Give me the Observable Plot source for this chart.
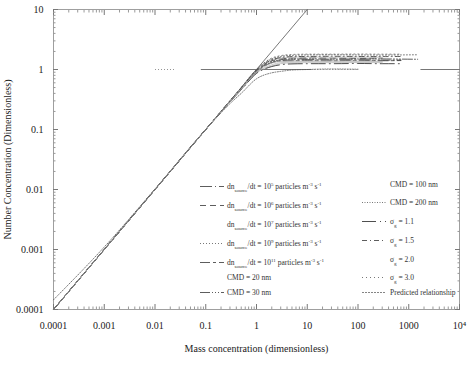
<!DOCTYPE html>
<html><head><meta charset="utf-8">
<script src="https://cdn.jsdelivr.net/npm/d3@7"></script>
<script src="https://cdn.jsdelivr.net/npm/@observablehq/plot@0.6"></script>
<style>body{margin:0;background:#fff}</style>
</head><body><div id="chart"></div>
<script>
// ---------- data ----------
const xTicks = [1e-4, 1e-3, 1e-2, 0.1, 1, 10, 100, 1000, 1e4];
const xTickLabels = ["0.0001", "0.001", "0.01", "0.1", "1", "10", "100", "1000", "10⁴"];
const yTicks = [1e-4, 1e-3, 1e-2, 0.1, 1, 10];
const yTickLabels = ["0.0001", "0.001", "0.01", "0.1", "1", "10"];

const xs = [1e-4, 1e-3, 1e-2, 0.1, 0.3, 0.5, 1, 2, 3, 5, 10, 30, 100, 300, 700, 1500];
const ySrc5   = [1e-4, 1e-3, 0.01, 0.1, 0.29, 0.47, 0.92, 1.30, 1.40, 1.45, 1.46, 1.44, 1.45, 1.43, 1.44, null];
const ySrc6   = [1e-4, 1e-3, 0.01, 0.1, 0.29, 0.48, 0.95, 1.40, 1.50, 1.55, 1.56, 1.55, 1.54, 1.55, null, null];
const ySrc7   = [1e-4, 1e-3, 0.01, 0.1, 0.29, 0.46, 0.88, 1.20, 1.30, 1.33, 1.35, 1.34, 1.35, 1.34, null, null];
const ySrc9   = [1e-4, 1e-3, 0.01, 0.1, 0.30, 0.50, 1.00, 1.50, 1.65, 1.72, 1.75, 1.76, 1.75, 1.74, 1.75, 1.76];
const ySrc11  = [1e-4, 1e-3, 0.01, 0.1, 0.29, 0.47, 0.90, 1.30, 1.38, 1.40, 1.41, 1.40, 1.42, 1.40, 1.41, null];
const yCmd20  = [1e-4, 1e-3, 0.01, 0.1, 0.29, 0.46, 0.88, 1.15, 1.25, 1.29, 1.30, 1.30, 1.31, 1.30, null, null];
const yCmd30  = [1e-4, 1e-3, 0.01, 0.1, 0.29, 0.48, 0.93, 1.35, 1.45, 1.50, 1.50, 1.49, 1.50, 1.50, 1.49, 1.48];
const yCmd100 = [1e-4, 1e-3, 0.01, 0.1, 0.30, 0.49, 0.95, 1.45, 1.55, 1.60, 1.62, 1.60, 1.61, 1.60, null, null];
const yCmd200 = [1.45e-4, 1.1e-3, 0.0102, 0.1, 0.27, 0.40, 0.70, 0.88, 0.93, 0.98, 1.00, 1.02, 1.01, null, null, null];
const ySig11  = [1e-4, 1e-3, 0.01, 0.1, 0.29, 0.46, 0.86, 1.12, 1.20, 1.24, 1.25, 1.25, 1.26, 1.25, 1.25, null];
const ySig15  = [1e-4, 1e-3, 0.01, 0.1, 0.30, 0.49, 0.96, 1.45, 1.58, 1.64, 1.65, 1.66, 1.65, 1.64, 1.65, null];
const ySig20  = [1e-4, 1e-3, 0.01, 0.1, 0.29, 0.47, 0.91, 1.28, 1.36, 1.38, 1.38, 1.39, 1.38, 1.37, null, null];
const ySig30  = [1e-4, 1e-3, 0.01, 0.1, 0.30, 0.50, 1.00, 1.55, 1.70, 1.78, 1.80, 1.80, 1.81, 1.80, 1.80, null];
const xPred = [1e-4, 10];
const yPred = [1e-4, 10];
// reference line at y = 1, drawn in pieces (x start, x end)
const unityStart = [0.01, 0.08, 12, 1700];
const unityEnd   = [0.025, 12, 100, 1e4];
const unityDotted = [true, false, true, false];

const seriesNames = ["src5","src6","src7","src9","src11","cmd20","cmd30","cmd100","cmd200","sig11","sig15","sig20","sig30"];
const seriesValues = [ySrc5, ySrc6, ySrc7, ySrc9, ySrc11, yCmd20, yCmd30, yCmd100, yCmd200, ySig11, ySig15, ySig20, ySig30];

// styles (not data)
const styles = {
  src5:   {stroke: "#333", dash: "12,3,1,3"},
  src6:   {stroke: "#333", dash: "6,4"},
  src7:   {stroke: "#bbb", dash: "none"},
  src9:   {stroke: "#555", dash: "1,2"},
  src11:  {stroke: "#333", dash: "10,3,3,3"},
  cmd20:  {stroke: "#bbb", dash: "none"},
  cmd30:  {stroke: "#333", dash: "10,2,1,2,1,2,1,2"},
  cmd100: {stroke: "#bbb", dash: "none"},
  cmd200: {stroke: "#555", dash: "1,1.5"},
  sig11:  {stroke: "#222", dash: "14,4,1,4"},
  sig15:  {stroke: "#333", dash: "5,3,1,3"},
  sig20:  {stroke: "#bbb", dash: "none"},
  sig30:  {stroke: "#555", dash: "1,3"},
  pred:   {stroke: "#666", dash: "2,1"}
};

const rows = [];
seriesNames.forEach((name, i) => {
  seriesValues[i].forEach((y, j) => { if (y != null) rows.push({series: name, x: xs[j], y}); });
});
const unityRows = unityStart.map((x1, i) => ({x1, x2: unityEnd[i], y: 1, dotted: unityDotted[i]}));

const font = "Liberation Serif, Times New Roman, serif";
const minorX = [], minorY = [];
for (let e = -4; e < 4; e++) for (let k = 2; k <= 9; k++) minorX.push(k * 10 ** e);
for (let e = -4; e < 1; e++) for (let k = 2; k <= 9; k++) minorY.push(k * 10 ** e);

const lineMarks = seriesNames.map(name => Plot.line(rows.filter(d => d.series === name), {
  x: "x", y: "y", stroke: styles[name].stroke, strokeWidth: 0.8,
  strokeDasharray: styles[name].dash, curve: "monotone-x"
}));

const plot = Plot.plot({
  width: 474, height: 370,
  marginLeft: 53, marginRight: 15, marginTop: 9, marginBottom: 61,
  style: {fontFamily: font, fontSize: "10px", background: "#fff", color: "#222"},
  x: {type: "log", domain: [1e-4, 1e4]},
  y: {type: "log", domain: [1e-4, 10]},
  marks: [
    Plot.frame({stroke: "#888", strokeWidth: 0.8}),
    Plot.link(unityRows.filter(d => !d.dotted), {x1: "x1", x2: "x2", y1: "y", y2: "y", stroke: "#666", strokeWidth: 0.9}),
    Plot.link(unityRows.filter(d => d.dotted), {x1: "x1", x2: "x2", y1: "y", y2: "y", stroke: "#888", strokeWidth: 0.9, strokeDasharray: "1,2"}),
    Plot.line(xPred.map((x, i) => ({x, y: yPred[i]})), {x: "x", y: "y", stroke: "#555", strokeWidth: 0.8}),
    ...lineMarks,
    Plot.axisX(xTicks, {anchor: "bottom", tickSize: -5, tickFormat: () => "", label: null, stroke: "#777"}),
    Plot.axisX(xTicks, {anchor: "top", tickSize: -5, tickFormat: () => "", label: null, stroke: "#777"}),
    Plot.axisX(minorX, {anchor: "bottom", tickSize: -2.5, tickFormat: () => "", label: null, stroke: "#999"}),
    Plot.axisX(minorX, {anchor: "top", tickSize: -2.5, tickFormat: () => "", label: null, stroke: "#999"}),
    Plot.axisY(yTicks, {anchor: "left", tickSize: -5, tickFormat: () => "", label: null, stroke: "#777"}),
    Plot.axisY(yTicks, {anchor: "right", tickSize: -5, tickFormat: () => "", label: null, stroke: "#777"}),
    Plot.axisY(minorY, {anchor: "left", tickSize: -2.5, tickFormat: () => "", label: null, stroke: "#999"}),
    Plot.axisY(minorY, {anchor: "right", tickSize: -2.5, tickFormat: () => "", label: null, stroke: "#999"}),
    Plot.axisX(xTicks, {anchor: "bottom", tickSize: 0, tickPadding: 12,
      tickFormat: d => xTickLabels[xTicks.indexOf(d)], fontSize: 10,
      label: "Mass concentration (dimensionless)", labelAnchor: "center", labelOffset: 42, labelArrow: "none"}),
    Plot.axisY(yTicks, {anchor: "left", tickSize: 0, tickPadding: 10,
      tickFormat: d => yTickLabels[yTicks.indexOf(d)], fontSize: 10,
      label: "Number Concentration (Dimensionless)", labelAnchor: "center", labelOffset: 50, labelArrow: "none"})
  ]
});
document.getElementById("chart").append(plot);

// ---------- legend (decoration) ----------
const svg = d3.select(plot);
const leg = svg.append("g").attr("font-family", font).attr("font-size", 7.5)
  .attr("fill", "#333").attr("text-anchor", "start");
const srcParts = e => [["dn",""],["source","sub"],["/dt = 10",""],[e,"sup"],[" particles m",""],["-3","sup"],[" s",""],["-1","sup"]];
const sigParts = v => [["σ",""],["g","sub"],[" = " + v,""]];
const legendLeft = [
  {key: "src5", parts: srcParts("5")},
  {key: "src6", parts: srcParts("6")},
  {key: "src7", parts: srcParts("7")},
  {key: "src9", parts: srcParts("9")},
  {key: "src11", parts: srcParts("11")},
  {key: "cmd20", parts: [["CMD = 20 nm",""]]},
  {key: "cmd30", parts: [["CMD = 30 nm",""]]}
];
const legendRight = [
  {key: "cmd100", parts: [["CMD = 100 nm",""]]},
  {key: "cmd200", parts: [["CMD = 200 nm",""]]},
  {key: "sig11", parts: sigParts("1.1")},
  {key: "sig15", parts: sigParts("1.5")},
  {key: "sig20", parts: sigParts("2.0")},
  {key: "sig30", parts: sigParts("3.0")},
  {key: "pred", parts: [["Predicted relationship",""]]}
];
const leftY = [189, 208, 227, 246, 265, 280, 295];
const rightY = [187, 205, 224, 243, 262, 280, 295];
function drawCol(items, ys, x0, x1, tx) {
  items.forEach((it, i) => {
    const y = ys[i];
    const st = styles[it.key];
    if (st.stroke !== "#bbb") {
      leg.append("line").attr("x1", x0).attr("x2", x1).attr("y1", y - 2.5).attr("y2", y - 2.5)
        .attr("stroke", st.stroke).attr("stroke-width", 0.8).attr("stroke-dasharray", st.dash);
    }
    const t = leg.append("text").attr("x", tx).attr("y", y).attr("fill", "#333");
    let shift = 0;
    it.parts.forEach(([s, k]) => {
      const target = k === "sub" ? 2.5 : k === "sup" ? -3 : 0;
      t.append("tspan").attr("dy", target - shift).attr("font-size", k ? 5 : 7.5).attr("fill", "#333").text(s);
      shift = target;
    });
  });
}
drawCol(legendLeft, leftY, 200, 224, 227);
drawCol(legendRight, rightY, 362, 386, 390);
</script></body></html>
